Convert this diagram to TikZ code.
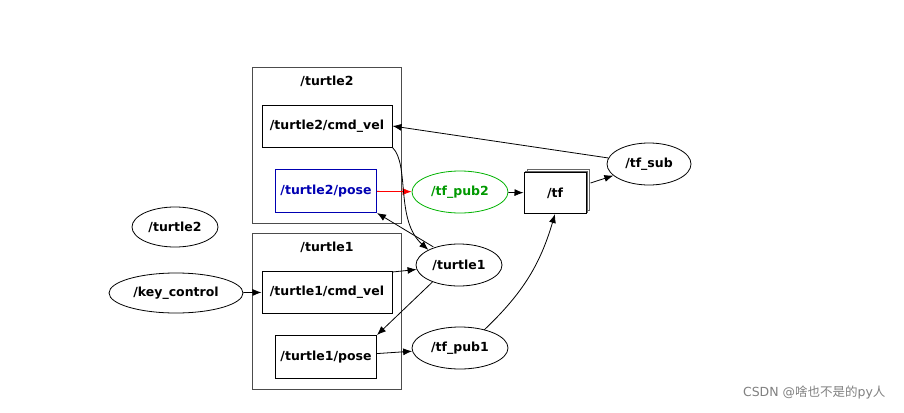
\documentclass[tikz,border=0pt]{standalone}
\usepackage{fontspec}
\setmainfont{DejaVu Sans}
\newfontfamily\cjk{Noto Sans CJK SC}
\usetikzlibrary{arrows.meta,shapes.geometric,shadows}
\tikzset{
  lbl/.style={font=\bfseries\fontsize{12.5}{14}\selectfont},
  topic/.style={draw, rectangle, line width=1pt, minimum width=130pt, minimum height=42pt, lbl},
  posebox/.style={topic, minimum width=101pt, minimum height=43pt},
  nodeell/.style={draw, ellipse, line width=0.8pt, inner sep=0pt, lbl},
  cluster/.style={draw, line width=1pt, gray!60!black, rectangle},
  edge/.style={-{Latex[length=9pt,width=7pt]}, line width=0.8pt}
}
\begin{document}
\begin{tikzpicture}[x=1pt, y=-1pt]
    \useasboundingbox (0,0) rectangle (904,412);
    % Clusters
    \draw[cluster] (252,67) rectangle (401,223);
    \draw[cluster] (252,233) rectangle (401,389);
    \node (lab2) [lbl] at (327,81) {/turtle2};
    \node (lab1) [lbl] at (327,247) {/turtle1};

    % Topics
    \node (t2cmd) [topic] at (327,126) {/turtle2/cmd\_vel};
    \node (t2pose) [posebox, draw=blue!70!black, text=blue!70!black] at (326,191) {/turtle2/pose};
    \node (t1cmd) [topic] at (327,292) {/turtle1/cmd\_vel};
    \node (t1pose) [posebox] at (326,357) {/turtle1/pose};
    \node (tf) [topic, minimum width=62pt, minimum height=41pt, double copy shadow={shadow xshift=1.5pt, shadow yshift=1.5pt, line width=0.5pt, draw=gray!80!black}, fill=white] at (555,193) {/tf};

    % Nodes
    \node (turtle2) [nodeell, minimum width=86pt, minimum height=40pt] at (175,227) {/turtle2};
    \node (keyctl) [nodeell, minimum width=134pt, minimum height=40pt] at (176,293) {/key\_control};
    \node (turtle1) [nodeell, minimum width=86pt, minimum height=42pt] at (459,265) {/turtle1};
    \node (pub2) [nodeell, draw=green!70!black, text=green!60!black, minimum width=96pt, minimum height=42pt] at (460,192) {/tf\_pub2};
    \node (pub1) [nodeell, minimum width=96pt, minimum height=42pt] at (460,348) {/tf\_pub1};
    \node (tfsub) [nodeell, minimum width=84pt, minimum height=42pt] at (649,164) {/tf\_sub};

    % Arrows
    \draw[edge] (keyctl) -- (t1cmd);
    \draw[edge] (t1cmd.east) ++(0,-20) coordinate (a) (a) -- (turtle1);
    \draw[edge] (turtle1.south west) ++(4,2) coordinate (b) (b) -- (t1pose.north east);
    \draw[edge] (t1pose) -- (pub1);
    \draw[edge] (pub1.north east) ++(-10,-3) coordinate (c) (c) to[bend right=15] (tf.south);
    \draw[edge, red] (t2pose) -- (pub2);
    \draw[edge] (pub2) -- (tf);
    \draw[edge] (tf.east) ++(4,-10) coordinate (d) (d) -- (tfsub);
    \draw[edge] (tfsub) -- (t2cmd.east);
    \draw[edge] (t2cmd.south east) .. controls (410,165) and (395,220) .. (turtle1.north west);
    \draw[edge] (turtle1.north west) ++(5,-3) coordinate (e) (e) -- (t2pose.south east);

    % Watermark
    \node (mark) [gray, anchor=east, font=\fontsize{12.5}{14}\selectfont] at (889,393) {CSDN @{\cjk 啥也不是的}py{\cjk 人}};
\end{tikzpicture}
\end{document}
